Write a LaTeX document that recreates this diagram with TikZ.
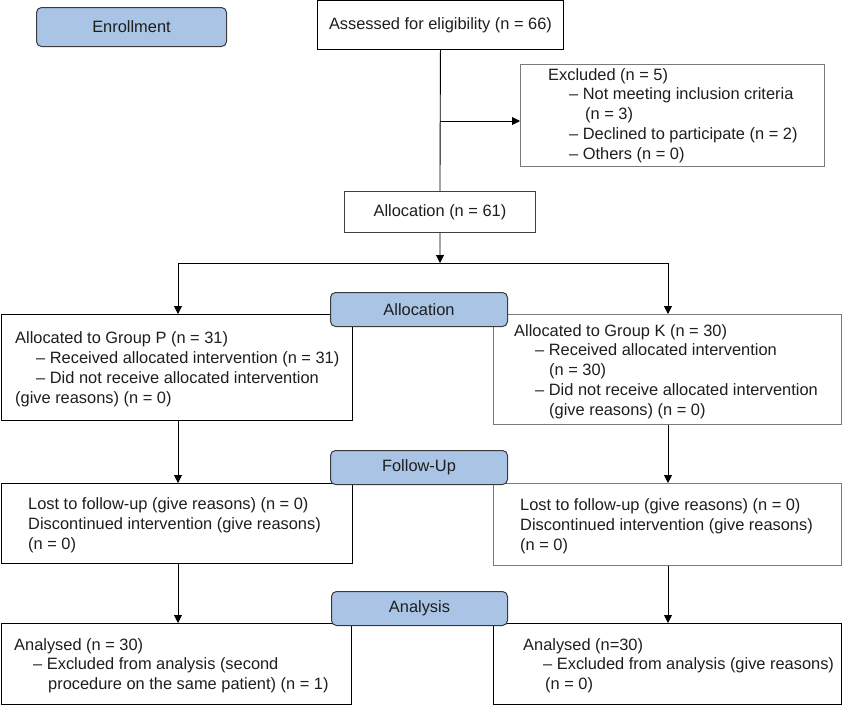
\documentclass[tikz,border=0pt]{standalone}
\usepackage{fontspec}
\setmainfont{Liberation Sans}
\usetikzlibrary{arrows.meta}
\definecolor{lblue}{HTML}{A9C4E4}
\definecolor{lborder}{HTML}{3A3A3A}
\definecolor{txt}{HTML}{1E1E1E}
\definecolor{gborder}{HTML}{7A7A7A}
\begin{document}
\begin{tikzpicture}[x=1pt,y=-1pt,
  font=\fontsize{16.4}{19.8}\selectfont, text=txt,
  frame/.style={draw=black, line width=0.9pt, anchor=north west, inner sep=0pt},
  gframe/.style={frame, draw=gborder},
  txtn/.style={anchor=west, align=left, inner sep=0pt},
  lbl/.style={draw=lborder, fill=lblue, rounded corners=5pt, line width=1pt, anchor=north west, inner sep=0pt},
  arr/.style={-{Triangle[length=8pt,width=8pt]}, line width=0.9pt},
  conn/.style={line width=0.9pt}]
\useasboundingbox (0,0) rectangle (845,704);
\fill[white] (0,0) rectangle (845,704);

% enrollment label
\node[lbl, minimum width=190pt, minimum height=39pt] (enroll) at (36,7) {Enrollment};

% assessed
\node[frame, minimum width=246pt, minimum height=48.5pt] (assess) at (317,0.5) {};
\node[anchor=center, inner sep=0pt] (assesst) at (assess.center) {Assessed for eligibility (n = 66)};

% excluded
\node[gframe, minimum width=304pt, minimum height=102pt] (excl) at (520,64) {};
\node[txtn] (exclt) at ([xshift=28pt]excl.west) {Excluded (n = 5)\\
\hspace*{21pt}– Not meeting inclusion criteria\\
\hspace*{37pt}(n = 3)\\
\hspace*{21pt}– Declined to participate (n = 2)\\
\hspace*{21pt}– Others (n = 0)};

% allocation n=61
\node[frame, draw=black!75, minimum width=191pt, minimum height=41pt] (alloc) at (344,191) {};
\node[anchor=center, inner sep=0pt] (alloct) at (alloc.center) {Allocation (n = 61)};

% group boxes
\node[frame, minimum width=351.5pt, minimum height=106pt] (gP) at (0.5,314) {};
\node[txtn] (gPt) at ([xshift=14.5pt,yshift=-2pt]gP.west) {Allocated to Group P (n = 31)\\
\hspace*{21pt}– Received allocated intervention (n = 31)\\
\hspace*{21pt}– Did not receive allocated intervention\\
(give reasons) (n = 0)};

\node[gframe, minimum width=348pt, minimum height=110pt] (gK) at (493,314) {};
\node[txtn] (gKt) at ([xshift=21pt,yshift=-2pt]gK.west) {Allocated to Group K (n = 30)\\
\hspace*{21pt}– Received allocated intervention\\
\hspace*{35pt}(n = 30)\\
\hspace*{21pt}– Did not receive allocated intervention\\
\hspace*{35pt}(give reasons) (n = 0)};

% follow-up boxes
\node[frame, minimum width=351.5pt, minimum height=80pt] (fP) at (0.5,483) {};
\node[txtn] (fPt) at ([xshift=27.5pt,yshift=-2pt]fP.west) {Lost to follow-up (give reasons) (n = 0)\\
Discontinued intervention (give reasons)\\
(n = 0)};

\node[gframe, minimum width=348pt, minimum height=82pt] (fK) at (493,483) {};
\node[txtn] (fKt) at ([xshift=27pt,yshift=-2pt]fK.west) {Lost to follow-up (give reasons) (n = 0)\\
Discontinued intervention (give reasons)\\
(n = 0)};

% analysis boxes
\node[frame, minimum width=350.5pt, minimum height=80.5pt] (aP) at (0.5,623) {};
\node[txtn] (aPt) at ([xshift=13.5pt,yshift=-2pt]aP.west) {Analysed (n = 30)\\
\hspace*{19pt}– Excluded from analysis (second\\
\hspace*{34pt}procedure on the same patient) (n = 1)};

\node[frame, minimum width=348pt, minimum height=80.5pt] (aK) at (493,623) {};
\node[txtn] (aKt) at ([xshift=30pt,yshift=-2pt]aK.west) {Analysed (n=30)\\
\hspace*{20pt}– Excluded from analysis (give reasons)\\
\hspace*{22pt}(n = 0)};

% stage labels
\node[lbl, minimum width=177pt, minimum height=34pt] (lA) at (330,292) {Allocation};
\node[lbl, minimum width=177pt, minimum height=34pt] (lF) at (330,450) {Follow-Up};
\node[lbl, minimum width=176pt, minimum height=34pt] (lN) at (331,591) {Analysis};

% connectors
\coordinate (exJ) at (440,121);
\coordinate (split) at (440,263);
\coordinate (sL) at (178,263);
\coordinate (sR) at (668,263);
\draw[conn] (assess.south) -- (alloc.north);
\draw[arr] (exJ) -- (exJ -| excl.west);
\draw[arr] (alloc.south) -- (split);
\draw[conn] (sL) -- (sR);
\draw[arr] (sL) -- (sL |- gP.north);
\draw[arr] (sR) -- (sR |- gK.north);
\draw[arr] (sL |- gP.south) -- (sL |- fP.north);
\draw[arr] (sR |- gK.south) -- (sR |- fK.north);
\draw[arr] (sL |- fP.south) -- (sL |- aP.north);
\draw[arr] (sR |- fK.south) -- (sR |- aK.north);
\end{tikzpicture}
\end{document}
